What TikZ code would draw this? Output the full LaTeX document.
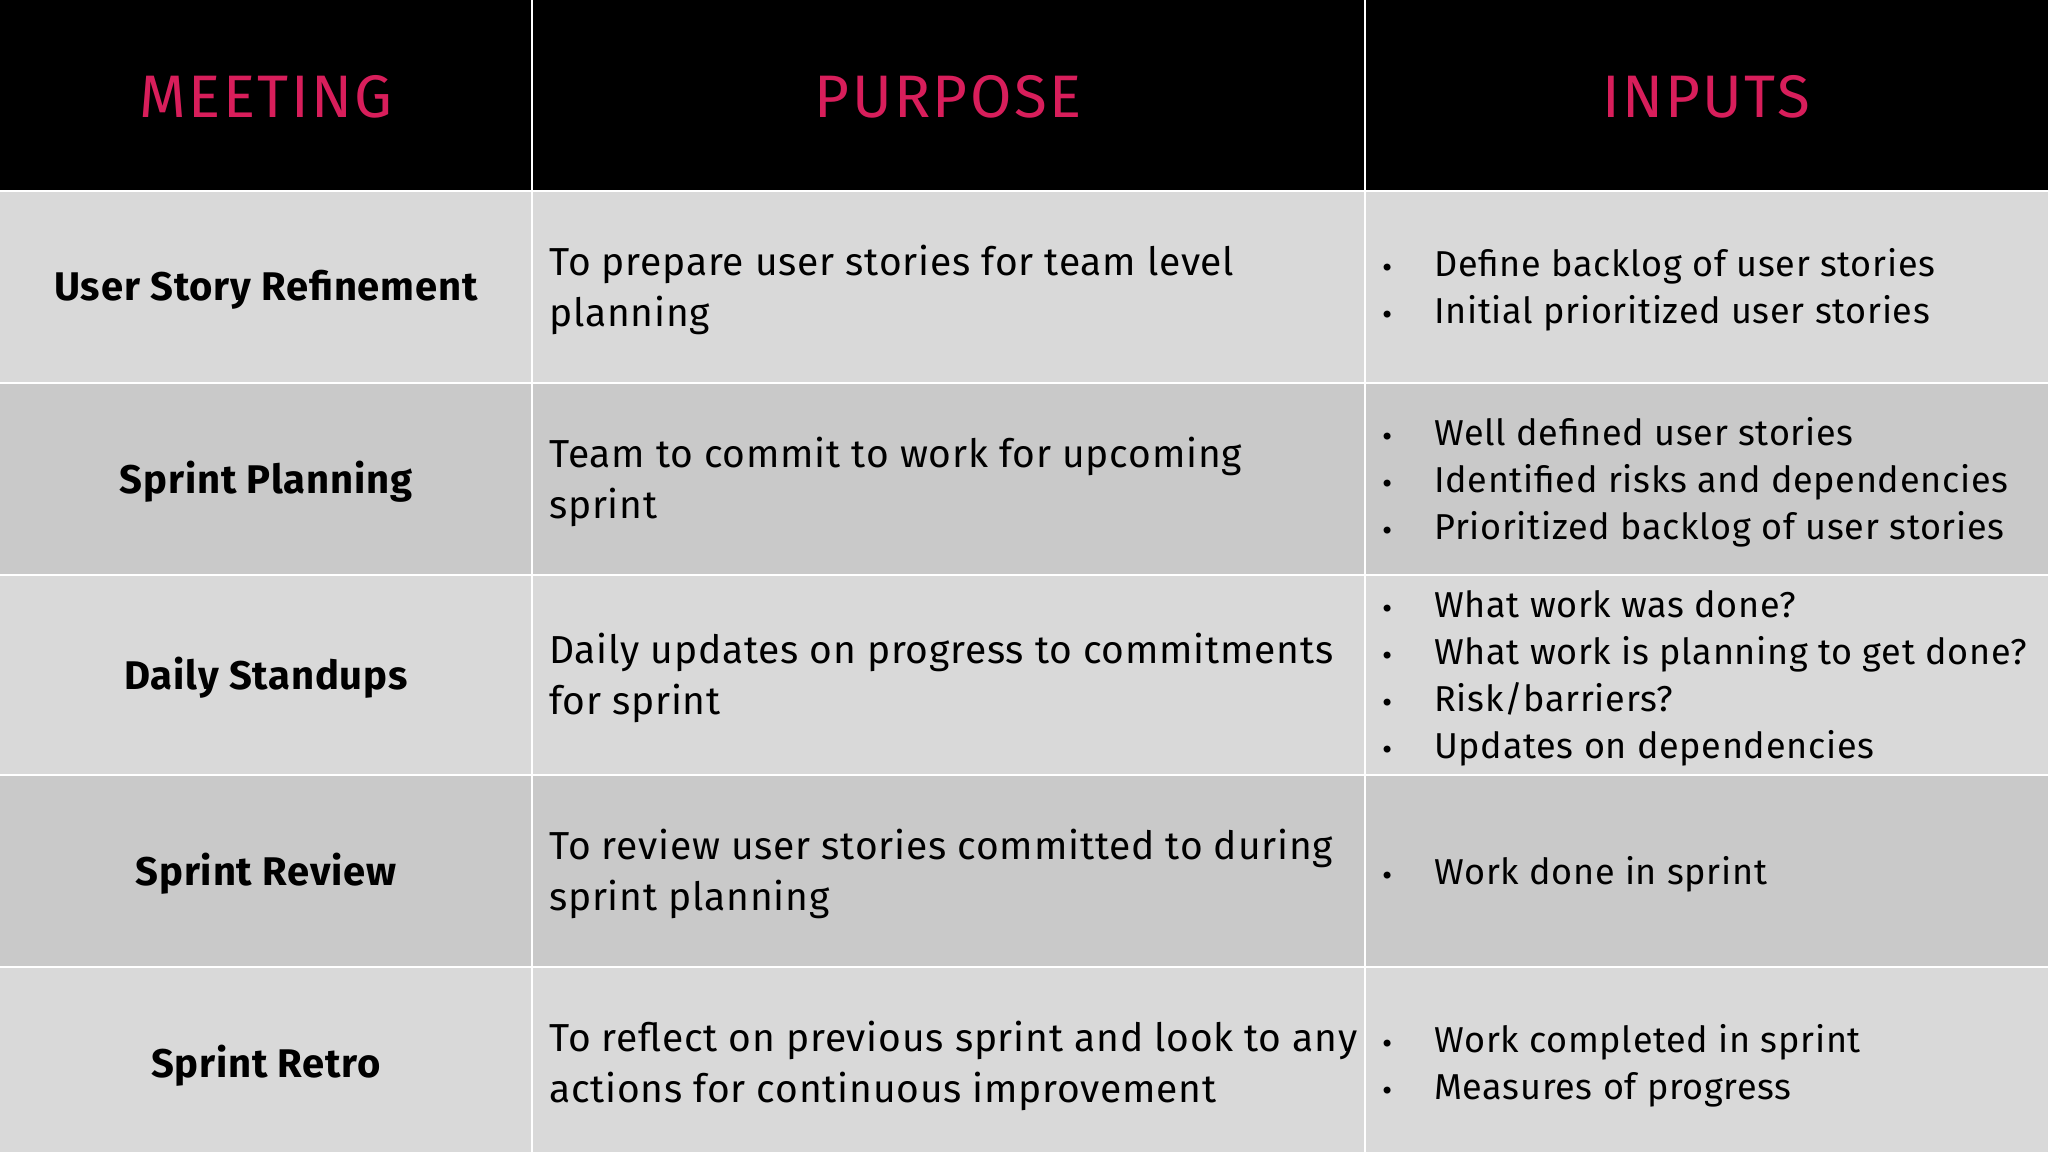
\documentclass[tikz,border=0pt]{standalone}
\usepackage{fontspec}
\setmainfont{Fira Sans}
\newfontfamily\bulletfont{DejaVu Sans}
\definecolor{hdpink}{HTML}{D81E5B}
\definecolor{rowa}{HTML}{D9D9D9}
\definecolor{rowb}{HTML}{C9C9C9}
\begin{document}
\begin{tikzpicture}[x=1pt,y=-1pt,
  hdr/.style={text=hdpink,font=\fontsize{60}{60}\selectfont\addfontfeature{LetterSpace=4}},
  meet/.style={font=\fontsize{40}{48}\selectfont\bfseries\addfontfeature{LetterSpace=2},anchor=center},
  purp/.style={font=\fontsize{39}{51}\selectfont\addfontfeature{LetterSpace=2},anchor=west,align=left,inner sep=0pt},
  inp/.style={font=\fontsize{36}{47}\selectfont\addfontfeature{LetterSpace=2},anchor=west,align=left,inner sep=0pt},
  grid/.style={white,line width=2.5pt}]
\useasboundingbox (0,0) rectangle (2048,1152);
\fill[black] (0,0) rectangle (2048,191);
\fill[rowa] (0,191) rectangle (2048,383);
\fill[rowb] (0,383) rectangle (2048,575);
\fill[rowa] (0,575) rectangle (2048,775);
\fill[rowb] (0,775) rectangle (2048,967);
\fill[rowa] (0,967) rectangle (2048,1152);
\foreach \y in {191,383,575,775,967} \draw[grid] (0,\y) -- (2048,\y);
\draw[grid] (532,0) -- (532,1152);
\draw[grid] (1365,0) -- (1365,1152);
\node[hdr] (h1) at (266,97) {MEETING};
\node[hdr] (h2) at (948,97) {PURPOSE};
\node[hdr] (h3) at (1706,97) {INPUTS};
\node[meet] (m1) at (266,290) {User Story Refinement};
\node[meet] (m2) at (266,482) {Sprint Planning};
\node[meet] (m3) at (266,678) {Daily Standups};
\node[meet] (m4) at (266,874) {Sprint Review};
\node[meet] (m5) at (266,1066) {Sprint Retro};
\node[purp] (p1) at (549,290) {To prepare user stories for team level\\planning};
\node[purp] (p2) at (549,482) {Team to commit to work for upcoming\\sprint};
\node[purp] (p3) at (549,678) {Daily updates on progress to commitments\\for sprint};
\node[purp] (p4) at (549,874) {To review user stories committed to during\\sprint planning};
\node[purp] (p5) at (549,1066) {To reflect on previous sprint and look to any\\actions for continuous improvement};
\newcommand{\bl}{\makebox[54pt][l]{\bulletfont\fontsize{24}{24}\selectfont •}}
\node[inp] (i1) at (1380,290) {\bl Define backlog of user stories\\\bl Initial prioritized user stories};
\node[inp] (i2) at (1380,482) {\bl Well defined user stories\\\bl Identified risks and dependencies\\\bl Prioritized backlog of user stories};
\node[inp] (i3) at (1380,678) {\bl What work was done?\\\bl What work is planning to get done?\\\bl Risk/barriers?\\\bl Updates on dependencies};
\node[inp] (i4) at (1380,874) {\bl Work done in sprint};
\node[inp] (i5) at (1380,1066) {\bl Work completed in sprint\\\bl Measures of progress};
\end{tikzpicture}
\end{document}
